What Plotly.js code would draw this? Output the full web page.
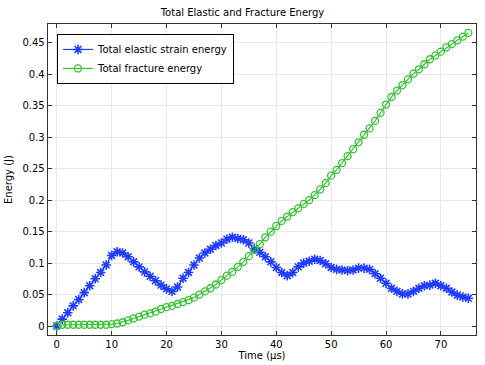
<!DOCTYPE html>
<html>
<head>
<meta charset="utf-8">
<script src="https://cdn.plot.ly/plotly-3.0.1.min.js"></script>
<style>html,body{margin:0;padding:0;background:#fff;}#chart{width:485px;height:365px;}</style>
</head>
<body>
<div id="chart"></div>
<script>
const timeUs = [0,1,2,3,4,5,6,7,8,9,10,11,12,13,14,15,16,17,18,19,20,21,22,23,24,25,26,27,28,29,30,31,32,33,34,35,36,37,38,39,40,41,42,43,44,45,46,47,48,49,50,51,52,53,54,55,56,57,58,59,60,61,62,63,64,65,66,67,68,69,70,71,72,73,74,75];
const elasticEnergy = [0,0.011,0.021,0.032,0.042,0.053,0.064,0.075,0.085,0.097,0.112,0.118,0.116,0.110,0.102,0.094,0.086,0.079,0.072,0.065,0.059,0.055,0.062,0.076,0.085,0.097,0.108,0.116,0.122,0.128,0.132,0.138,0.141,0.139,0.137,0.132,0.123,0.117,0.110,0.102,0.093,0.085,0.080,0.085,0.094,0.100,0.103,0.106,0.104,0.099,0.093,0.090,0.089,0.088,0.089,0.092,0.092,0.090,0.083,0.076,0.068,0.060,0.055,0.051,0.051,0.055,0.060,0.064,0.065,0.068,0.064,0.060,0.054,0.049,0.046,0.044];
const fractureEnergy = [0,0.002,0.002,0.002,0.002,0.002,0.002,0.002,0.002,0.002,0.003,0.004,0.006,0.009,0.012,0.015,0.018,0.020,0.023,0.027,0.030,0.032,0.035,0.038,0.041,0.045,0.050,0.055,0.060,0.066,0.073,0.080,0.086,0.094,0.102,0.111,0.121,0.130,0.141,0.150,0.159,0.167,0.174,0.181,0.187,0.194,0.200,0.208,0.217,0.227,0.239,0.248,0.259,0.270,0.281,0.292,0.304,0.314,0.326,0.339,0.352,0.364,0.374,0.383,0.392,0.401,0.408,0.416,0.424,0.430,0.436,0.443,0.448,0.454,0.460,0.466];
const seriesNames = ["Total elastic strain energy","Total fracture energy"];
const xTicks = [0,10,20,30,40,50,60,70];
const yTicks = [0,0.05,0.1,0.15,0.2,0.25,0.3,0.35,0.4,0.45];
const yTickText = ["0","0.05","0.1","0.15","0.2","0.25","0.3","0.35","0.4","0.45"];

const font = {family: "DejaVu Sans, sans-serif", size: 10, color: "#000"};
const traces = [
  {x: timeUs, y: elasticEnergy, name: seriesNames[0], type: "scatter", mode: "lines+markers",
   line: {color: "#1f3cff", width: 1.2},
   marker: {symbol: "asterisk-open", size: 8, color: "#1f3cff", line: {color: "#1f3cff", width: 1.6}}},
  {x: timeUs, y: fractureEnergy, name: seriesNames[1], type: "scatter", mode: "lines+markers",
   line: {color: "#33c333", width: 1.2},
   marker: {symbol: "circle-open", size: 7, color: "#33c333", line: {color: "#33c333", width: 1.3}}}
];
const axisCommon = {showline: true, mirror: "ticks", linecolor: "#333", linewidth: 1.3,
  ticks: "inside", ticklen: 4, tickcolor: "#333", showgrid: true, gridcolor: "#e8e8e8",
  gridwidth: 1, zeroline: false, tickfont: font};
const layout = {
  width: 485, height: 365,
  margin: {l: 48, r: 9, t: 24, b: 30},
  paper_bgcolor: "#fff", plot_bgcolor: "#fff",
  font: font,
  title: {text: "Total Elastic and Fracture Energy", font: {family: font.family, size: 10, color: "#000"}, x: 0.5, xanchor: "center", y: 0.965, yanchor: "middle"},
  xaxis: Object.assign({}, axisCommon, {range: [-1.6, 76.4], tickvals: xTicks,
    title: {text: "Time (µs)", font: font, standoff: 2}}),
  yaxis: Object.assign({}, axisCommon, {range: [-0.0143, 0.480], tickvals: yTicks, ticktext: yTickText,
    title: {text: "Energy (J)", font: font, standoff: 8}}),
  showlegend: true,
  legend: {x: 0.021, y: 0.968, xanchor: "left", yanchor: "top", bgcolor: "#fff",
    bordercolor: "#000", borderwidth: 1, font: font, tracegroupgap: 0, itemwidth: 30}
};
Plotly.newPlot("chart", traces, layout, {displayModeBar: false, staticPlot: true});
</script>
</body>
</html>
